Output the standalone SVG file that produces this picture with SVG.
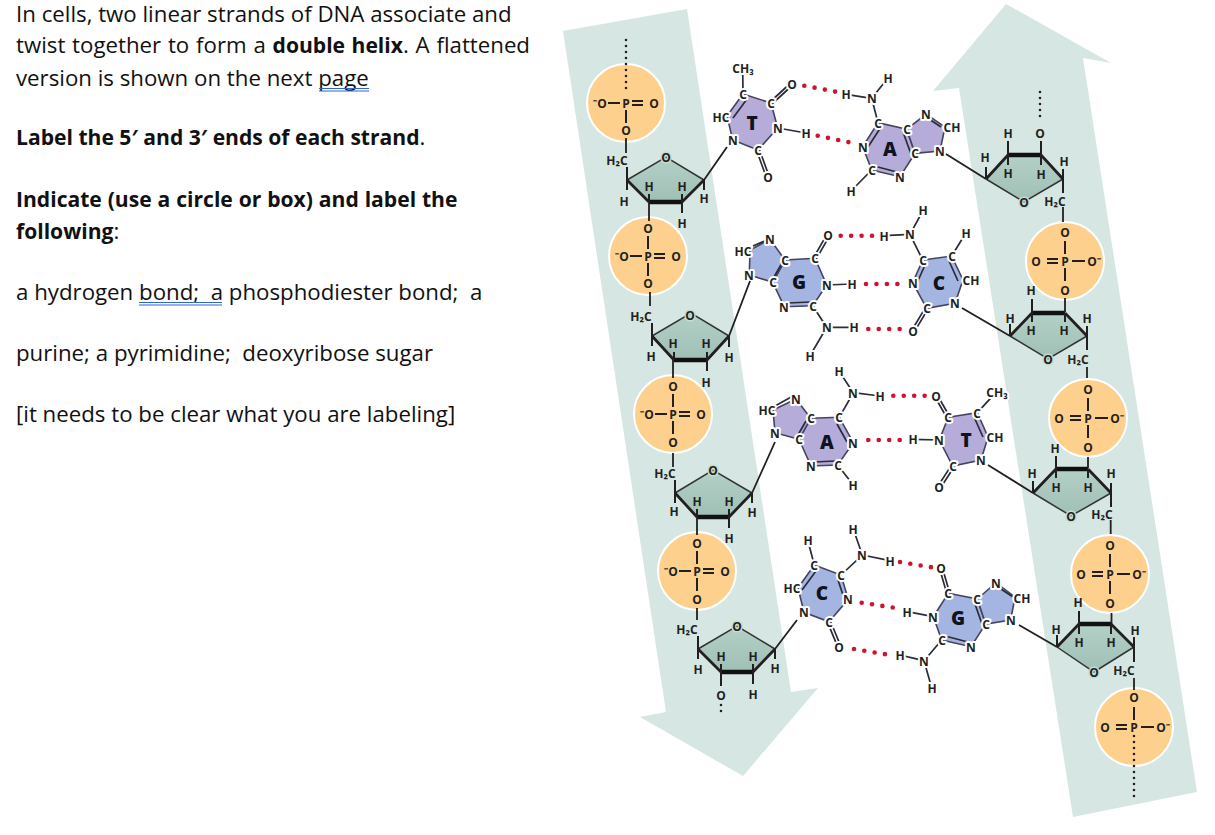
<svg xmlns="http://www.w3.org/2000/svg" width="1215" height="835" viewBox="0 0 1215 835">
<style>
text{font-family:"Open Sans","Liberation Sans",sans-serif}
.t{font-size:22.25px;fill:#111}
.b{font-weight:700;font-size:21.1px}
.ul{stroke:#2f66cc;stroke-width:1.2;fill:none}
.arrow{fill:#d6e6e2}
.a{font-size:12px;font-weight:700;fill:#231f20;text-anchor:middle;dominant-baseline:central}
.h{paint-order:stroke;stroke:#fff;stroke-width:4px;stroke-linejoin:round}
.sh{paint-order:stroke;stroke:#c5dcd5;stroke-width:3px;stroke-linejoin:round}
.big{font-size:19px;font-weight:800;fill:#10121e;text-anchor:middle;dominant-baseline:central}
.ph{fill:#fdd08e;stroke:#fff;stroke-width:2}
.l{stroke:#231f20;stroke-width:2;fill:none}
.sug{fill:url(#sg);stroke:none}
.wedge{stroke:#231f20;stroke-width:2.8;fill:none;stroke-linejoin:round}
.thin{stroke:#333;stroke-width:1.5;fill:none}
.heavy{stroke:#111;stroke-width:4.5;fill:none}
.pur{fill:#b5acd9;stroke:#45445f;stroke-width:1.6}
.blu{fill:#a5b5e1;stroke:#45445f;stroke-width:1.6}
.bd{stroke:#2b2b3a;stroke-width:1.7;fill:none}
.dot{stroke:#d0122c;stroke-width:4.6;stroke-linecap:round;stroke-dasharray:0 10.45;fill:none}
.bk{stroke:#231f20;stroke-width:2.6;stroke-linecap:round;stroke-dasharray:0 6;fill:none}
.cn{stroke:#231f20;stroke-width:1.8;fill:none}
</style>
<defs>
<linearGradient id="sg" x1="0" y1="0" x2="0" y2="1"><stop offset="0" stop-color="#b4d0c7"/><stop offset="1" stop-color="#9fbfb5"/></linearGradient>
</defs>
<g id="instructions">
<text class="t" x="16" y="22">In cells, two linear strands of DNA associate and</text>
<text class="t" x="16" y="53" word-spacing="1">twist together to form a <tspan class="b">double helix</tspan>. A flattened</text>
<text class="t" x="16" y="86">version is shown on the next page</text>
<path class="ul" d="M319,88.5H369M319,91H369"/>
<text class="t" x="16" y="145"><tspan class="b">Label the 5′ and 3′ ends of each strand</tspan>.</text>
<text class="t b" x="16" y="207" word-spacing="0.4">Indicate (use a circle or box) and label the</text>
<text class="t" x="16" y="239"><tspan class="b">following</tspan>:</text>
<text class="t" x="16" y="300" xml:space="preserve">a hydrogen bond;  a phosphodiester bond;  a</text>
<path class="ul" d="M139,302.5H222M139,305H222"/>
<text class="t" x="16" y="361" xml:space="preserve">purine; a pyrimidine;  deoxyribose sugar</text>
<text class="t" x="16" y="422">[it needs to be clear what you are labeling]</text>
</g>
<g id="strand-arrows">
<polygon id="arrow-left" class="arrow" points="563,31 687,9 791,692 818,688 743,776 640,717 666,712"/>
<polygon id="arrow-right" class="arrow" points="1006,4 1111,63 1083,58 1197,792 1073,817 959,88 933,91"/>
</g>

<g id="phosphate-L1" transform="translate(626,103)"><circle class="ph" r="39"/><path class="l" d="M-18,0H-6M0,7V20M6,-2H17M6,2H17"/><path class="bk" d="M0,-63V-10"/><text class="a" x="-26" y="0">⁻O</text><text class="a" x="0" y="0">P</text><text class="a" x="28" y="0">O</text><text class="a" x="0" y="27">O</text></g>
<g id="phosphate-L2" transform="translate(648,256)"><circle class="ph" r="39"/><path class="l" d="M-18,0H-6M0,7V20M0,-7V-20M6,-2H17M6,2H17"/><text class="a" x="-26" y="0">⁻O</text><text class="a" x="0" y="0">P</text><text class="a" x="28" y="0">O</text><text class="a" x="0" y="-28">O</text><text class="a" x="0" y="27">O</text></g>
<g id="phosphate-L3" transform="translate(673,414)"><circle class="ph" r="39"/><path class="l" d="M-18,0H-6M0,7V20M0,-7V-20M6,-2H17M6,2H17"/><text class="a" x="-26" y="0">⁻O</text><text class="a" x="0" y="0">P</text><text class="a" x="28" y="0">O</text><text class="a" x="0" y="-28">O</text><text class="a" x="0" y="28">O</text></g>
<g id="phosphate-L4" transform="translate(697,571)"><circle class="ph" r="39"/><path class="l" d="M-18,0H-6M0,7V20M0,-7V-20M6,-2H17M6,2H17"/><text class="a" x="-26" y="0">⁻O</text><text class="a" x="0" y="0">P</text><text class="a" x="28" y="0">O</text><text class="a" x="0" y="-28">O</text><text class="a" x="0" y="28">O</text></g>

<g id="phosphate-R1" transform="translate(1065,261)"><circle class="ph" r="39"/><path class="l" d="M7,0H20M0,7V20M0,-7V-20M-7,-2H-18M-7,2H-18"/><text class="a" x="-29" y="0">O</text><text class="a" x="0" y="0">P</text><text class="a" x="29" y="0">O⁻</text><text class="a" x="0" y="-29">O</text><text class="a" x="0" y="29">O</text></g>
<g id="phosphate-R2" transform="translate(1088,418)"><circle class="ph" r="39"/><path class="l" d="M7,0H20M0,7V20M0,-7V-20M-7,-2H-18M-7,2H-18"/><text class="a" x="-29" y="0">O</text><text class="a" x="0" y="0">P</text><text class="a" x="29" y="0">O⁻</text><text class="a" x="0" y="-29">O</text><text class="a" x="0" y="29">O</text></g>
<g id="phosphate-R3" transform="translate(1110,574)"><circle class="ph" r="39"/><path class="l" d="M7,0H20M0,7V20M0,-7V-20M-7,-2H-18M-7,2H-18"/><text class="a" x="-29" y="0">O</text><text class="a" x="0" y="0">P</text><text class="a" x="29" y="0">O⁻</text><text class="a" x="0" y="-29">O</text><text class="a" x="0" y="29">O</text></g>
<g id="phosphate-R4" transform="translate(1134,727)"><circle class="ph" r="39"/><path class="l" d="M7,0H20M0,-7V-20M-7,-2H-18M-7,2H-18"/><path class="bk" d="M0,9V75"/><text class="a" x="-29" y="0">O</text><text class="a" x="0" y="0">P</text><text class="a" x="29" y="0">O⁻</text><text class="a" x="0" y="-30">O</text></g>

<g id="sugar-L1" transform="translate(627,180)"><polygon class="sug" points="0,0 39,-23 77,0 55,22 22,22"/><path class="thin" d="M0,0L39,-23L77,0"/><path class="wedge" d="M0,0L22,22M55,22L77,0"/><path class="heavy" d="M22,22H55"/><path class="l" d="M0,0V-13M0,0V10M22,22V14M55,22V14M77,0V10M55,22V33"/><text class="a sh" x="39" y="-23">O</text><text class="a" x="-10" y="-20">H₂C</text><text class="a" x="-3" y="21">H</text><text class="a" x="22" y="6">H</text><text class="a" x="55" y="6">H</text><text class="a" x="77" y="18">H</text><text class="a" x="55" y="43">H</text></g>
<g id="sugar-L2" transform="translate(652,336)"><polygon class="sug" points="0,0 39,-23 77,0 55,24 22,24"/><path class="thin" d="M0,0L39,-23L77,0"/><path class="wedge" d="M0,0L22,24M55,24L77,0"/><path class="heavy" d="M22,24H55"/><path class="l" d="M0,0V-13M0,0V10M22,24V16M55,24V16M77,0V11M55,24V35"/><text class="a sh" x="38" y="-21">O</text><text class="a" x="-11" y="-20">H₂C</text><text class="a" x="-1" y="20">H</text><text class="a" x="21" y="7">H</text><text class="a" x="54" y="7">H</text><text class="a" x="77" y="21">H</text><text class="a" x="54" y="46">H</text></g>
<g id="sugar-L3" transform="translate(675,493)"><polygon class="sug" points="0,0 38,-23 77,0 54,24 22,24"/><path class="thin" d="M0,0L38,-23L77,0"/><path class="wedge" d="M0,0L22,24M54,24L77,0"/><path class="heavy" d="M22,24H54"/><path class="l" d="M0,0V-13M0,0V10M22,24V16M54,24V16M77,0V10M54,24V35"/><text class="a sh" x="38" y="-23">O</text><text class="a" x="-10" y="-20">H₂C</text><text class="a" x="-1" y="18">H</text><text class="a" x="22" y="8">H</text><text class="a" x="54" y="8">H</text><text class="a" x="77" y="19">H</text><text class="a" x="54" y="45">H</text></g>
<g id="sugar-L4" transform="translate(698,649)"><polygon class="sug" points="0,0 39,-23 77,0 55,23 23,23"/><path class="thin" d="M0,0L39,-23L77,0"/><path class="wedge" d="M0,0L23,23M55,23L77,0"/><path class="heavy" d="M23,23H55"/><path class="l" d="M0,0V-13M0,0V10M23,23V15M55,23V15M77,0V10M55,23V35M23,23V37"/><path class="bk" d="M23,56V68"/><text class="a sh" x="39" y="-23">O</text><text class="a" x="-11" y="-20">H₂C</text><text class="a" x="0" y="20">H</text><text class="a" x="23" y="7">H</text><text class="a" x="55" y="7">H</text><text class="a" x="77" y="19">H</text><text class="a" x="55" y="45">H</text><text class="a" x="23" y="46">O</text></g>

<g id="sugar-R1" transform="translate(986,179)"><polygon class="sug" points="0,0 22,-24 55,-24 77,0 38,23"/><path class="thin" d="M0,0L38,23L77,0"/><path class="wedge" d="M0,0L22,-24M55,-24L77,0"/><path class="heavy" d="M22,-24H55"/><path class="l" d="M0,0V-12M22,-24V-38M22,-24V-14M55,-24V-14M55,-24V-38M77,0V-10M77,0V14"/><path class="bk" d="M54,-87V-57"/><text class="a sh" x="38" y="23">O</text><text class="a" x="69" y="22">H₂C</text><text class="a" x="-1" y="-22">H</text><text class="a" x="22" y="-46">H</text><text class="a" x="22" y="-6">H</text><text class="a" x="55" y="-5">H</text><text class="a" x="78" y="-18">H</text><text class="a" x="54" y="-46">O</text></g>
<g id="sugar-R2" transform="translate(1010,336)"><polygon class="sug" points="0,0 22,-23 55,-23 77,0 38,23"/><path class="thin" d="M0,0L38,23L77,0"/><path class="wedge" d="M0,0L22,-23M55,-23L77,0"/><path class="heavy" d="M22,-23H55"/><path class="l" d="M0,0V-12M22,-23V-37M22,-23V-14M55,-23V-14M77,0V-10M77,0V14"/><text class="a sh" x="38" y="23">O</text><text class="a" x="68" y="23">H₂C</text><text class="a" x="0" y="-18">H</text><text class="a" x="21" y="-46">H</text><text class="a" x="21" y="-6">H</text><text class="a" x="54" y="-6">H</text><text class="a" x="77" y="-18">H</text></g>
<g id="sugar-R3" transform="translate(1033,493)"><polygon class="sug" points="0,0 23,-24 55,-24 78,0 38,23"/><path class="thin" d="M0,0L38,23L78,0"/><path class="wedge" d="M0,0L23,-24M55,-24L78,0"/><path class="heavy" d="M23,-24H55"/><path class="l" d="M0,0V-12M23,-24V-37M23,-24V-15M55,-24V-15M78,0V-10M78,0V14"/><text class="a sh" x="38" y="23">O</text><text class="a" x="69" y="21">H₂C</text><text class="a" x="-1" y="-20">H</text><text class="a" x="22" y="-45">H</text><text class="a" x="23" y="-6">H</text><text class="a" x="55" y="-6">H</text><text class="a" x="78" y="-20">H</text></g>
<g id="sugar-R4" transform="translate(1057,647)"><polygon class="sug" points="0,0 22,-23 54,-23 77,0 37,25"/><path class="thin" d="M0,0L37,25L77,0"/><path class="wedge" d="M0,0L22,-23M54,-23L77,0"/><path class="heavy" d="M22,-23H54"/><path class="l" d="M0,0V-12M22,-23V-36M22,-23V-13M54,-23V-13M77,0V-10M77,0V15"/><text class="a sh" x="37" y="25">O</text><text class="a" x="67" y="23">H₂C</text><text class="a" x="-1" y="-18">H</text><text class="a" x="21" y="-45">H</text><text class="a" x="22" y="-5">H</text><text class="a" x="54" y="-5">H</text><text class="a" x="78" y="-17">H</text></g>

<g id="base-T1">
<polygon class="pur" points="743,94 771,103 777.7,128 758,150 732.7,140 727,116"/>
<path class="bd" d="M742.7,68L743,94M770,102L790.7,83M772,104L792.7,85M777.7,128L806,133M759.4,149.5L769.1,176.2M756.6,150.5L766.3,177.2M747,99L733,118"/>
<text class="a h" x="743" y="68">CH₃</text><text class="a h" x="743" y="94">C</text><text class="a h" x="771" y="103">C</text><text class="a h" x="792" y="84">O</text><text class="a h" x="778" y="128">N</text><text class="a h" x="806" y="133">H</text><text class="a h" x="758" y="150">C</text><text class="a h" x="768" y="177">O</text><text class="a h" x="733" y="140">N</text><text class="a h" x="721" y="117">HC</text><text class="big" x="752" y="123">T</text>
</g>
<g id="base-A1">
<polygon class="pur" points="862.7,146.7 878,122.7 906.7,129.3 915,153.3 900,176.7 871.7,170"/>
<polygon class="pur" points="906.7,129.3 926,114 945,127 940,151 915,153.3"/>
<path class="bd" d="M871.7,98.3L888,78M871.7,98.3L846,94.3M871.7,98.3L878,122.7M871.7,170L851,191M868,147L881,127M874,166L897,172M903,132L911,154M929,119L941,127"/>
<text class="a h" x="846" y="94">H</text><text class="a h" x="872" y="98">N</text><text class="a h" x="888" y="78">H</text><text class="a h" x="878" y="123">C</text><text class="a h" x="863" y="147">N</text><text class="a h" x="872" y="170">C</text><text class="a h" x="851" y="191">H</text><text class="a h" x="907" y="129">C</text><text class="a h" x="926" y="114">N</text><text class="a h" x="952" y="127">CH</text><text class="a h" x="940" y="151">N</text><text class="a h" x="915" y="153">C</text><text class="a h" x="900" y="177">N</text><text class="big" x="890" y="149">A</text>
</g>
<g id="base-G1">
<polygon class="blu" points="815,258.3 826.7,285 812.7,305.7 784.3,306.7 772.7,282.3 785,260"/>
<polygon class="blu" points="785,260 770,239.3 750,250 749.3,275 772.7,282.3"/>
<path class="bd" d="M816.3,259L829.6,235.7M813.7,257.5L827,234.2M826.7,285L851.7,284M812.7,305.7L826.7,327.3L854.3,327.3M826.7,327.3L810,355.7M782,263L770,284M788,303L810,302M753,246L767,240"/>
<text class="a h" x="828" y="235">O</text><text class="a h" x="815" y="258">C</text><text class="a h" x="827" y="285">N</text><text class="a h" x="852" y="284">H</text><text class="a h" x="813" y="306">C</text><text class="a h" x="827" y="327">N</text><text class="a h" x="854" y="327">H</text><text class="a h" x="810" y="356">H</text><text class="a h" x="784" y="307">N</text><text class="a h" x="773" y="282">C</text><text class="a h" x="785" y="260">C</text><text class="a h" x="770" y="239">N</text><text class="a h" x="743" y="251">HC</text><text class="a h" x="749" y="275">N</text><text class="big" x="799" y="282">G</text>
</g>
<g id="base-C1">
<polygon class="blu" points="922.7,260 951.7,256 963,280 955,303.3 926.7,308.3 912.7,282.7"/>
<path class="bd" d="M922.7,260L910,234.3L884,235.7M910,234.3L923.3,210M951.7,256L966,232.7M928,309L914.6,331.4M925.4,307.6L912,330M949,261L958,281M917,283L925,265"/>
<text class="a h" x="884" y="236">H</text><text class="a h" x="910" y="234">N</text><text class="a h" x="923" y="210">H</text><text class="a h" x="923" y="260">C</text><text class="a h" x="952" y="256">C</text><text class="a h" x="966" y="233">H</text><text class="a h" x="971" y="280">CH</text><text class="a h" x="955" y="303">N</text><text class="a h" x="927" y="308">C</text><text class="a h" x="913" y="331">O</text><text class="a h" x="913" y="283">N</text><text class="big" x="939" y="283">C</text>
</g>
<g id="base-A2">
<polygon class="pur" points="839.3,417.3 853.3,442.7 837.7,465 811,466 799,439.3 810.7,418.3"/>
<polygon class="pur" points="810.7,418.3 796,399 773,410 775,432.7 799,439.3"/>
<path class="bd" d="M839.3,417.3L853.3,392.7L839,371M853.3,392.7L880,396M837.7,465L853.3,485M837,424L847,442M814,462L835,461M806,421L795,440M775,406L793,396"/>
<text class="a h" x="839" y="371">H</text><text class="a h" x="853" y="393">N</text><text class="a h" x="880" y="396">H</text><text class="a h" x="839" y="417">C</text><text class="a h" x="853" y="443">N</text><text class="a h" x="838" y="465">C</text><text class="a h" x="853" y="485">H</text><text class="a h" x="811" y="466">N</text><text class="a h" x="799" y="439">C</text><text class="a h" x="811" y="418">C</text><text class="a h" x="796" y="399">N</text><text class="a h" x="767" y="410">HC</text><text class="a h" x="775" y="433">N</text><text class="big" x="827" y="442">A</text>
</g>
<g id="base-T2">
<polygon class="pur" points="948.3,417.3 977.3,412.7 988,437 981,460 952.7,466 939.3,440"/>
<path class="bd" d="M949.6,416.5L937.3,395M947,418L934.7,396.5M977.3,412.7L996.7,391.7M939.3,440L913.3,439.3M954,467L940.6,487.7M951.4,465.4L938,486M974.5,418L983,437"/>
<text class="a h" x="936" y="396">O</text><text class="a h" x="948" y="417">C</text><text class="a h" x="977" y="413">C</text><text class="a h" x="997" y="392">CH₃</text><text class="a h" x="995" y="437">CH</text><text class="a h" x="981" y="460">N</text><text class="a h" x="953" y="466">C</text><text class="a h" x="939" y="487">O</text><text class="a h" x="939" y="440">N</text><text class="a h" x="913" y="439">H</text><text class="big" x="966" y="440">T</text>
</g>
<g id="base-C2">
<polygon class="blu" points="814.3,565 841,575 848.3,599.3 829,621.7 804,612.3 798,588"/>
<path class="bd" d="M814.3,565L807.7,540M841,575L862.3,555L853.3,529M862.3,555L890,560.7M830.4,621L840.7,646M827.6,622.4L837.9,647.4M816,571L802,590M838,580L844,598"/>
<text class="a h" x="808" y="540">H</text><text class="a h" x="814" y="565">C</text><text class="a h" x="841" y="575">C</text><text class="a h" x="862" y="555">N</text><text class="a h" x="853" y="529">H</text><text class="a h" x="890" y="561">H</text><text class="a h" x="848" y="599">N</text><text class="a h" x="829" y="622">C</text><text class="a h" x="839" y="647">O</text><text class="a h" x="804" y="612">N</text><text class="a h" x="792" y="588">HC</text><text class="big" x="822" y="593">C</text>
</g>
<g id="base-G2">
<polygon class="blu" points="948.3,593.3 977.3,599 985.7,624 971,646.7 941.7,640 933.3,616.7"/>
<polygon class="blu" points="977.3,599 996,582.7 1015,597 1010.7,620 985.7,624"/>
<path class="bd" d="M949.7,592.9L942.4,567.9M946.9,593.7L939.6,568.7M933.3,616.7L907.3,611.7M941.7,640L924,660.7L900,655M924,660.7L931.7,687.7M975,604L982,624M945,636L968,642M998,587L1013,597"/>
<text class="a h" x="941" y="568">O</text><text class="a h" x="948" y="593">C</text><text class="a h" x="977" y="599">C</text><text class="a h" x="996" y="583">N</text><text class="a h" x="1022" y="598">CH</text><text class="a h" x="1011" y="620">N</text><text class="a h" x="986" y="624">C</text><text class="a h" x="971" y="647">N</text><text class="a h" x="942" y="640">C</text><text class="a h" x="933" y="617">N</text><text class="a h" x="907" y="612">H</text><text class="a h" x="924" y="661">N</text><text class="a h" x="900" y="655">H</text><text class="a h" x="932" y="688">H</text><text class="big" x="958" y="618">G</text>
</g>

<g id="connectors">
<path class="cn" d="M626,138V153M649,202V221M650,292V306M673,360V378M673,453V467M697,517V535M697,608V620M1063,207V222M1065,298V312M1087,367V378M1088,457V468M1110.7,520V534M1111.5,613V624M1134,678V690"/>
<path class="cn" d="M727,147L704,180M946,154L986,179M750,281L729,336M962,308L1010,336M775,442L752,493M988,465L1033,493M797,620L775,649M1019,625L1057,647"/>
<path class="dot" d="M804.3,85.7L835.7,91.7M817.7,135.7L849.3,142.3M840.7,235.7H873.3M866,284H898.3M868.3,329H900M893.3,395.7H925M868.3,440H900M900,562L931.7,567.3M861.7,602.7L894,607.7M854,649L885.7,654.3"/>
</g>
</svg>
